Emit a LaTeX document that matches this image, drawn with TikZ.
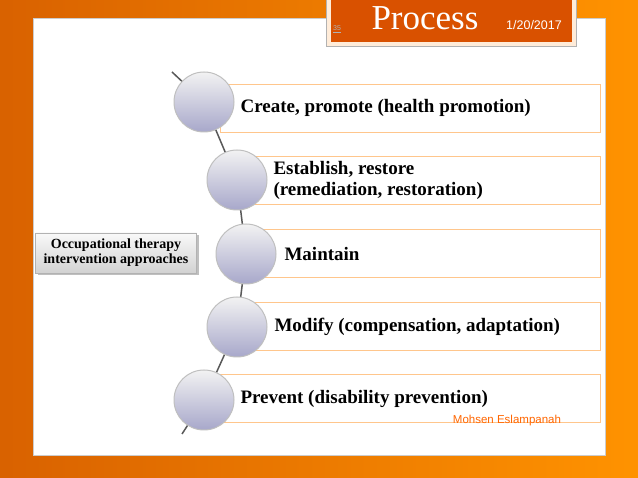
\documentclass[tikz,border=0pt]{standalone}
\usepackage{fontspec}
\setmainfont{Liberation Serif}
\newfontfamily\sansf{Liberation Sans}
\usetikzlibrary{shadows}
\begin{document}
\begin{tikzpicture}[x=1pt,y=-1pt,
  rowbox/.style={draw=orange!45,line width=1pt,fill=white},
  ball/.style={circle,minimum size=60pt,draw=gray!50,line width=1pt,top color=gray!10,bottom color=blue!25!gray!55,inner sep=0pt},
  rowtext/.style={font=\bfseries\fontsize{19}{21}\selectfont,anchor=west,align=left}]
\useasboundingbox (0,0) rectangle (638,478);
\shade[left color=orange!90!red!85!black,right color=orange!85!yellow] (0,0) rectangle (638,478);
\fill[white] (33,18) rectangle (605,455);
\draw[gray!40] (33,18) rectangle (605,455);
% title
\fill[orange!15!white] (326,-2) rectangle (576,46);
\draw[gray!60] (326,-2) rectangle (576,46);
\fill[orange!75!red!85!black] (331,0) rectangle (572,42);
\node[text=white,font=\fontsize{35}{37}\selectfont] (t) at (425,18) {Process};
\node[text=white,font=\sansf\fontsize{12.5}{14}\selectfont] (d) at (534,25) {1/20/2017};
\node[text=gray!60,font=\sansf\fontsize{7}{8}\selectfont] (n) at (337,29) {\underline{35}};
% spine
\coordinate (s0) at (172,72);
\coordinate (s6) at (182,434);
\draw[gray!70!black,line width=1.5pt] (s0) -- (204,102) -- (237,180) -- (246,254) -- (237,327) -- (204,400) -- (s6);
% rows
\draw[rowbox] (220,85) rectangle (600,133);
\draw[rowbox] (255,157) rectangle (600,205);
\draw[rowbox] (263,230) rectangle (600,278);
\draw[rowbox] (255,303) rectangle (600,351);
\draw[rowbox] (220,375) rectangle (600,423);
\node[ball] (c1) at (204,102) {};
\node[ball] (c2) at (237,180) {};
\node[ball] (c3) at (246,254) {};
\node[ball] (c4) at (237,327) {};
\node[ball] (c5) at (204,400) {};
\node[rowtext] (r1) at (237,108) {Create, promote (health promotion)};
\node[rowtext] (r2) at (270,180) {Establish, restore\\(remediation, restoration)};
\node[rowtext] (r3) at (281,254) {Maintain};
\node[rowtext] (r4) at (271,327) {Modify (compensation, adaptation)};
\node[rowtext] (r5) at (237,399) {Prevent (disability prevention)};
\node[text=orange!80!red,font=\sansf\fontsize{11.5}{13}\selectfont] (m) at (507,421) {Mohsen Eslampanah};
% left box
\node[draw=gray!60,top color=gray!5,bottom color=gray!35,minimum width=161pt,minimum height=40pt,align=center,inner sep=2pt,
  font=\bfseries\fontsize{14}{15}\selectfont,drop shadow] (lb) at (116,253) {Occupational therapy\\intervention approaches};
\end{tikzpicture}
\end{document}
